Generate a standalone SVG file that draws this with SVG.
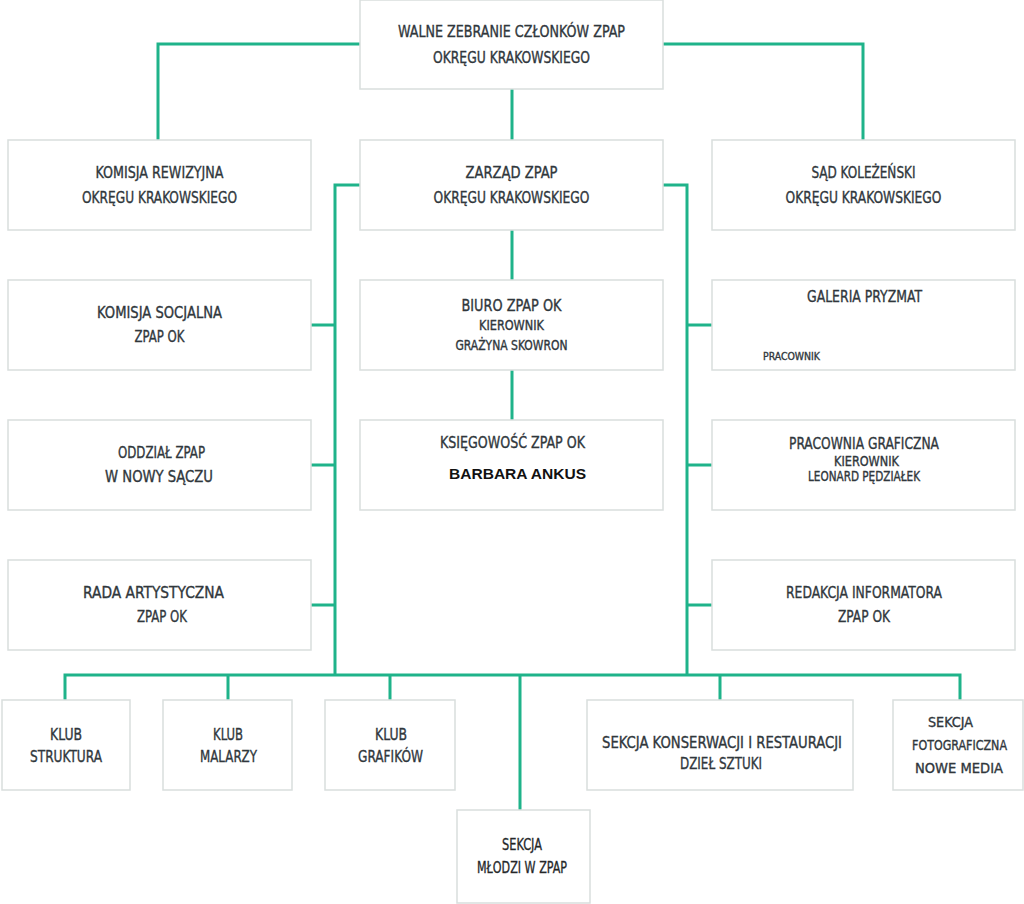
<svg xmlns="http://www.w3.org/2000/svg" width="1024" height="904" viewBox="0 0 1024 904">
<style>
.box{fill:#ffffff;stroke:#d9dedd;stroke-width:1.5}
.t{font-family:"DejaVu Sans Condensed","DejaVu Sans","Liberation Sans",sans-serif;font-size:16.5px;fill:#30373c;stroke:#30373c;stroke-width:0.35;text-anchor:middle}
.s{font-size:13.5px}
.xs{font-size:11px}
.f{font-size:14.5px}
.b{font-family:"Liberation Sans",Arial,sans-serif;font-weight:bold;font-size:15.5px;fill:#111;text-anchor:middle}
.c{fill:none;stroke:#1fb38a;stroke-width:3}
</style>
<rect width="1024" height="904" fill="#ffffff"/>
<g id="connectors">
<path class="c" d="M360 44H158V140M663 44H863V140"/>
<path class="c" d="M512 89V140M512 230V280M512 370V420"/>
<path class="c" d="M360 185H335V675M311 325H335M311 465H335M311 605H335"/>
<path class="c" d="M663 185H687V675M687 325H712M687 465H712M687 605H712"/>
<path class="c" d="M65 700V675H960V700M228 675V700M390 675V700M720 675V700M520 675V810"/>
</g>
<g id="walne"><rect class="box" x="360" y="0" width="303" height="89"/>
<text class="t" x="511.5" y="37" textLength="227" lengthAdjust="spacingAndGlyphs">WALNE ZEBRANIE CZŁONKÓW ZPAP</text>
<text class="t" x="511.5" y="63" textLength="157" lengthAdjust="spacingAndGlyphs">OKRĘGU KRAKOWSKIEGO</text></g>
<g id="komisja-rewizyjna"><rect class="box" x="8" y="140" width="303" height="90"/>
<text class="t" x="159.5" y="178" textLength="128" lengthAdjust="spacingAndGlyphs">KOMISJA REWIZYJNA</text>
<text class="t" x="159.5" y="203" textLength="155" lengthAdjust="spacingAndGlyphs">OKRĘGU KRAKOWSKIEGO</text></g>
<g id="zarzad"><rect class="box" x="360" y="140" width="303" height="90"/>
<text class="t" x="511.5" y="178" textLength="92" lengthAdjust="spacingAndGlyphs">ZARZĄD ZPAP</text>
<text class="t" x="511.5" y="203" textLength="156" lengthAdjust="spacingAndGlyphs">OKRĘGU KRAKOWSKIEGO</text></g>
<g id="sad"><rect class="box" x="712" y="140" width="303" height="90"/>
<text class="t" x="863.5" y="178" textLength="104" lengthAdjust="spacingAndGlyphs">SĄD KOLEŻEŃSKI</text>
<text class="t" x="863.5" y="203" textLength="156" lengthAdjust="spacingAndGlyphs">OKRĘGU KRAKOWSKIEGO</text></g>
<g id="komisja-socjalna"><rect class="box" x="8" y="280" width="303" height="90"/>
<text class="t" x="159.5" y="318" textLength="125" lengthAdjust="spacingAndGlyphs">KOMISJA SOCJALNA</text>
<text class="t" x="159.5" y="342" textLength="50" lengthAdjust="spacingAndGlyphs">ZPAP OK</text></g>
<g id="biuro"><rect class="box" x="360" y="280" width="303" height="90"/>
<text class="t" x="511.5" y="311" textLength="100" lengthAdjust="spacingAndGlyphs">BIURO ZPAP OK</text>
<text class="t s" x="511.5" y="330" textLength="65" lengthAdjust="spacingAndGlyphs">KIEROWNIK</text>
<text class="t s" x="511.5" y="350" textLength="112" lengthAdjust="spacingAndGlyphs">GRAŻYNA SKOWRON</text></g>
<g id="galeria"><rect class="box" x="712" y="280" width="303" height="90"/>
<text class="t" x="864.5" y="302" textLength="115" lengthAdjust="spacingAndGlyphs">GALERIA PRYZMAT</text>
<text class="t xs" x="791.5" y="360" textLength="57" lengthAdjust="spacingAndGlyphs">PRACOWNIK</text></g>
<g id="oddzial"><rect class="box" x="8" y="420" width="303" height="90"/>
<text class="t" x="161.5" y="458" textLength="87" lengthAdjust="spacingAndGlyphs">ODDZIAŁ ZPAP</text>
<text class="t" x="159" y="482" textLength="108" lengthAdjust="spacingAndGlyphs">W NOWY SĄCZU</text></g>
<g id="ksiegowosc"><rect class="box" x="360" y="420" width="303" height="90"/>
<text class="t" x="512.5" y="448" textLength="145" lengthAdjust="spacingAndGlyphs">KSIĘGOWOŚĆ ZPAP OK</text>
<text class="b" x="517.5" y="479" textLength="137" lengthAdjust="spacingAndGlyphs">BARBARA ANKUS</text></g>
<g id="pracownia"><rect class="box" x="712" y="420" width="303" height="90"/>
<text class="t" x="864" y="449" textLength="150" lengthAdjust="spacingAndGlyphs">PRACOWNIA GRAFICZNA</text>
<text class="t s" x="866.5" y="466" textLength="65" lengthAdjust="spacingAndGlyphs">KIEROWNIK</text>
<text class="t s" x="864" y="481" textLength="112" lengthAdjust="spacingAndGlyphs">LEONARD PĘDZIAŁEK</text></g>
<g id="rada"><rect class="box" x="8" y="560" width="303" height="90"/>
<text class="t" x="153.5" y="598" textLength="141" lengthAdjust="spacingAndGlyphs">RADA ARTYSTYCZNA</text>
<text class="t" x="162" y="622" textLength="50" lengthAdjust="spacingAndGlyphs">ZPAP OK</text></g>
<g id="redakcja"><rect class="box" x="712" y="560" width="303" height="90"/>
<text class="t" x="864" y="598" textLength="156" lengthAdjust="spacingAndGlyphs">REDAKCJA INFORMATORA</text>
<text class="t" x="864" y="622" textLength="52" lengthAdjust="spacingAndGlyphs">ZPAP OK</text></g>
<g id="klub-struktura"><rect class="box" x="2" y="700" width="128" height="90"/>
<text class="t" x="66" y="740" textLength="32" lengthAdjust="spacingAndGlyphs">KLUB</text>
<text class="t" x="66" y="762" textLength="72" lengthAdjust="spacingAndGlyphs">STRUKTURA</text></g>
<g id="klub-malarzy"><rect class="box" x="163" y="700" width="129" height="90"/>
<text class="t" x="228" y="740" textLength="30" lengthAdjust="spacingAndGlyphs">KLUB</text>
<text class="t" x="228.5" y="762" textLength="57" lengthAdjust="spacingAndGlyphs">MALARZY</text></g>
<g id="klub-grafikow"><rect class="box" x="325" y="700" width="130" height="90"/>
<text class="t" x="391" y="740" textLength="32" lengthAdjust="spacingAndGlyphs">KLUB</text>
<text class="t" x="390.5" y="762" textLength="65" lengthAdjust="spacingAndGlyphs">GRAFIKÓW</text></g>
<g id="sekcja-konserwacji"><rect class="box" x="587" y="700" width="266" height="90"/>
<text class="t" x="722" y="748" textLength="240" lengthAdjust="spacingAndGlyphs">SEKCJA KONSERWACJI I RESTAURACJI</text>
<text class="t" x="721" y="769" textLength="82" lengthAdjust="spacingAndGlyphs">DZIEŁ SZTUKI</text></g>
<g id="sekcja-foto"><rect class="box" x="893" y="700" width="130" height="90"/>
<text class="t f" x="950.5" y="727" textLength="45" lengthAdjust="spacingAndGlyphs">SEKCJA</text>
<text class="t f" x="959.5" y="750" textLength="95" lengthAdjust="spacingAndGlyphs">FOTOGRAFICZNA</text>
<text class="t f" x="959" y="773" textLength="88" lengthAdjust="spacingAndGlyphs">NOWE MEDIA</text></g>
<g id="sekcja-mlodzi"><rect class="box" x="457" y="810" width="133" height="93"/>
<text class="t" x="522" y="850" textLength="40" lengthAdjust="spacingAndGlyphs" style="fill:#222">SEKCJA</text>
<text class="t" x="522" y="873" textLength="90" lengthAdjust="spacingAndGlyphs" style="fill:#222">MŁODZI W ZPAP</text></g>
</svg>
